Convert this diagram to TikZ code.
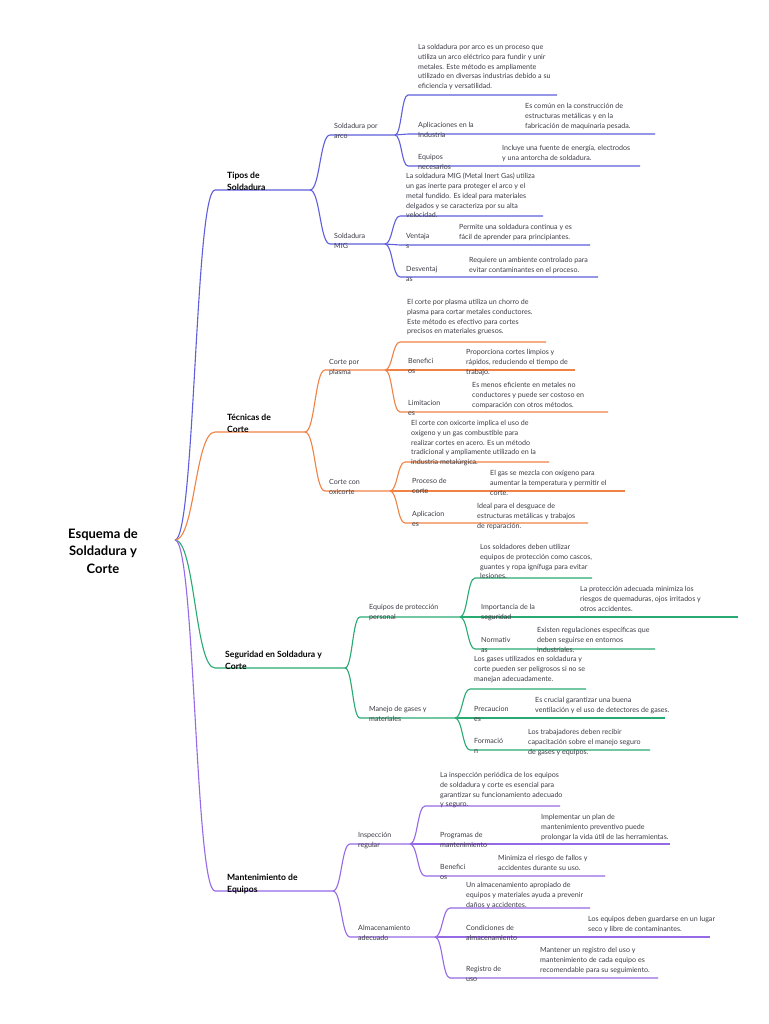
\documentclass[tikz,border=0pt]{standalone}
\usepackage{fontspec}
\setmainfont{Lato}
\usetikzlibrary{calc}
\definecolor{cA}{RGB}{95,95,220}
\definecolor{cB}{RGB}{240,130,70}
\definecolor{cC}{RGB}{40,170,115}
\definecolor{cD}{RGB}{150,105,230}
\definecolor{tx}{RGB}{60,60,70}
\newcommand\br[6]{% color, parent, startx, y, endx, name
  \coordinate (#6s) at (#3,#4); \coordinate (#6) at (#5,#4);
  \draw[#1,line width=1.1pt] let \p1=(#2), \p2=(#6s) in (\p1) .. controls ({0.5*\x1+0.5*\x2},\y1) and ({0.5*\x1+0.5*\x2},\y2) .. (\p2) -- (#6);}
\tikzset{
  sm/.style={anchor=north west,inner sep=0pt,align=left,text=tx,font=\fontsize{7.1}{9.8}\selectfont},
  hd/.style={anchor=north west,inner sep=0pt,align=left,text=black,font=\bfseries\fontsize{8.6}{12}\selectfont},
}
\begin{document}
\begin{tikzpicture}[x=1pt,y=-1pt]
\useasboundingbox (0,0) rectangle (768,1024);
\fill[white] (0,0) rectangle (768,1024);
\node[align=center,inner sep=0pt,font=\bfseries\fontsize{13}{17.5}\selectfont] (root) at (103,551) {Esquema de\\Soldadura y\\Corte};
\coordinate (R) at (175,540);
% ---------- Tipos
\br{cA}{R}{215}{190}{310}{A}
\node[hd] (tA) at (227,172) {Tipos de\\Soldadura};
\br{cA}{A}{330}{135}{395}{A1}
\node[sm] (tA1) at (334,123) {Soldadura por\\arco};
\br{cA}{A1}{408}{95}{557}{A11}
\node[sm] (tA11) at (418,44) {La soldadura por arco es un proceso que\\utiliza un arco eléctrico para fundir y unir\\metales. Este método es ampliamente\\utilizado en diversas industrias debido a su\\eficiencia y versatilidad.};
\br{cA}{A1}{408}{134}{655}{A12}
\node[sm] (tA12) at (418,122) {Aplicaciones en la\\Industria};
\node[sm] (dA12) at (525,103) {Es común en la construcción de\\estructuras metálicas y en la\\fabricación de maquinaria pesada.};
\br{cA}{A1}{408}{166}{640}{A13}
\node[sm] (tA13) at (418,154) {Equipos\\necesarios};
\node[sm] (dA13) at (502,145) {Incluye una fuente de energía, electrodos\\y una antorcha de soldadura.};
\br{cA}{A}{330}{244}{385}{A2}
\node[sm] (tA2) at (334,233) {Soldadura\\MIG};
\br{cA}{A2}{400}{216}{543}{A21}
\node[sm] (tA21) at (406,173) {La soldadura MIG (Metal Inert Gas) utiliza\\un gas inerte para proteger el arco y el\\metal fundido. Es ideal para materiales\\delgados y se caracteriza por su alta\\velocidad.};
\br{cA}{A2}{400}{245}{590}{A22}
\node[sm] (tA22) at (406,233) {Ventaja\\s};
\node[sm] (dA22) at (459,224) {Permite una soldadura continua y es\\fácil de aprender para principiantes.};
\br{cA}{A2}{400}{277}{598}{A23}
\node[sm] (tA23) at (406,266) {Desventaj\\as};
\node[sm] (dA23) at (469,257) {Requiere un ambiente controlado para\\evitar contaminantes en el proceso.};
% ---------- Tecnicas
\br{cB}{R}{215}{432}{305}{B}
\node[hd] (tB) at (227,414) {Técnicas de\\Corte};
\br{cB}{B}{325}{370}{385}{B1}
\node[sm] (tB1) at (329,359) {Corte por\\plasma};
\br{cB}{B1}{400}{342}{546}{B11}
\node[sm] (tB11) at (407,299) {El corte por plasma utiliza un chorro de\\plasma para cortar metales conductores.\\Este método es efectivo para cortes\\precisos en materiales gruesos.};
\br{cB}{B1}{400}{370}{575}{B12}
\node[sm] (tB12) at (408,358) {Benefici\\os};
\node[sm] (dB12) at (466,349) {Proporciona cortes limpios y\\rápidos, reduciendo el tiempo de\\trabajo.};
\br{cB}{B1}{400}{412}{608}{B13}
\node[sm] (tB13) at (408,400) {Limitacion\\es};
\node[sm] (dB13) at (472,382) {Es menos eficiente en metales no\\conductores y puede ser costoso en\\comparación con otros métodos.};
\br{cB}{B}{325}{491}{390}{B2}
\node[sm] (tB2) at (329,479) {Corte con\\oxicorte};
\br{cB}{B2}{405}{462}{549}{B21}
\node[sm] (tB21) at (411,420) {El corte con oxicorte implica el uso de\\oxígeno y un gas combustible para\\realizar cortes en acero. Es un método\\tradicional y ampliamente utilizado en la\\industria metalúrgica.};
\br{cB}{B2}{405}{491}{625}{B22}
\node[sm] (tB22) at (412,478) {Proceso de\\corte};
\node[sm] (dB22) at (490,470) {El gas se mezcla con oxígeno para\\aumentar la temperatura y permitir el\\corte.};
\br{cB}{B2}{405}{523}{588}{B23}
\node[sm] (tB23) at (412,511) {Aplicacion\\es};
\node[sm] (dB23) at (477,503) {Ideal para el desguace de\\estructuras metálicas y trabajos\\de reparación.};
% ---------- Seguridad
\br{cC}{R}{215}{668}{345}{C}
\node[hd] (tC) at (225,651) {Seguridad en Soldadura y\\Corte};
\br{cC}{C}{360}{617}{460}{C1}
\node[sm] (tC1) at (369,604) {Equipos de protección\\personal};
\br{cC}{C1}{475}{578}{592}{C11}
\node[sm] (tC11) at (480,544) {Los soldadores deben utilizar\\equipos de protección como cascos,\\guantes y ropa ignífuga para evitar\\lesiones.};
\br{cC}{C1}{475}{617}{738}{C12}
\node[sm] (tC12) at (481,604) {Importancia de la\\seguridad};
\node[sm] (dC12) at (580,586) {La protección adecuada minimiza los\\riesgos de quemaduras, ojos irritados y\\otros accidentes.};
\br{cC}{C1}{475}{649}{655}{C13}
\node[sm] (tC13) at (481,637) {Normativ\\as};
\node[sm] (dC13) at (537,627) {Existen regulaciones específicas que\\deben seguirse en entornos\\industriales.};
\br{cC}{C}{360}{718}{455}{C2}
\node[sm] (tC2) at (369,706) {Manejo de gases y\\materiales};
\br{cC}{C2}{470}{689}{586}{C21}
\node[sm] (tC21) at (474,656) {Los gases utilizados en soldadura y\\corte pueden ser peligrosos si no se\\manejan adecuadamente.};
\br{cC}{C2}{470}{718}{665}{C22}
\node[sm] (tC22) at (474,706) {Precaucion\\es};
\node[sm] (dC22) at (535,697) {Es crucial garantizar una buena\\ventilación y el uso de detectores de gases.};
\br{cC}{C2}{470}{750}{650}{C23}
\node[sm] (tC23) at (474,738) {Formació\\n};
\node[sm] (dC23) at (528,729) {Los trabajadores deben recibir\\capacitación sobre el manejo seguro\\de gases y equipos.};
% ---------- Mantenimiento
\br{cD}{R}{215}{891}{333}{D}
\node[hd] (tD) at (227,874) {Mantenimiento de\\Equipos};
\br{cD}{D}{350}{844}{410}{D1}
\node[sm] (tD1) at (358,832) {Inspección\\regular};
\br{cD}{D1}{425}{806}{560}{D11}
\node[sm] (tD11) at (440,772) {La inspección periódica de los equipos\\de soldadura y corte es esencial para\\garantizar su funcionamiento adecuado\\y seguro.};
\br{cD}{D1}{425}{844}{670}{D12}
\node[sm] (tD12) at (440,832) {Programas de\\mantenimiento};
\node[sm] (dD12) at (541,814) {Implementar un plan de\\mantenimiento preventivo puede\\prolongar la vida útil de las herramientas.};
\br{cD}{D1}{425}{876}{605}{D13}
\node[sm] (tD13) at (440,864) {Benefici\\os};
\node[sm] (dD13) at (498,855) {Minimiza el riesgo de fallos y\\accidentes durante su uso.};
\br{cD}{D}{350}{937}{435}{D2}
\node[sm] (tD2) at (358,925) {Almacenamiento\\adecuado};
\br{cD}{D2}{450}{908}{590}{D21}
\node[sm] (tD21) at (466,882) {Un almacenamiento apropiado de\\equipos y materiales ayuda a prevenir\\daños y accidentes.};
\br{cD}{D2}{450}{937}{710}{D22}
\node[sm] (tD22) at (466,925) {Condiciones de\\almacenamiento};
\node[sm] (dD22) at (588,916) {Los equipos deben guardarse en un lugar\\seco y libre de contaminantes.};
\br{cD}{D2}{450}{978}{658}{D23}
\node[sm] (tD23) at (466,966) {Registro de\\uso};
\node[sm] (dD23) at (540,947) {Mantener un registro del uso y\\mantenimiento de cada equipo es\\recomendable para su seguimiento.};
\end{tikzpicture}
\end{document}
